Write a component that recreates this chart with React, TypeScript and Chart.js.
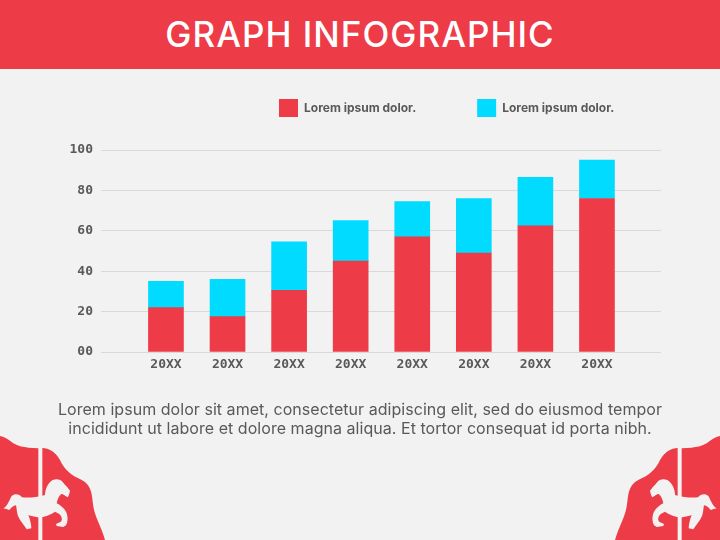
import React, { useEffect, useRef } from "react";
import { Chart, registerables } from "chart.js";

Chart.register(...registerables);

const categories = ["20XX", "20XX", "20XX", "20XX", "20XX", "20XX", "20XX", "20XX"];
const redValues = [22, 17.5, 30.5, 45, 57, 49, 62.5, 76];
const blueValues = [13, 18.5, 24, 20, 17.5, 27, 24, 19];
const seriesNames = ["Lorem ipsum dolor.", "Lorem ipsum dolor."];
const yTicks = [0, 20, 40, 60, 80, 100];
const RED = "#EE3B48";
const BLUE = "#00DBFF";
const TEXT = "#595959";
const BG = "#F2F2F2";
const TICK_FONT = "'DejaVu Sans Mono', monospace";

const blobPath =
  "M0 48 C12 50 22 56 32 64 C50 78 70 84 115 85 C140 80 165 92 180 120 C190 142 205 160 235 175 C265 188 275 205 278 245 C282 290 305 320 315 360 L0 360 Z";
const horsePath =
  "M10 265 C22 260 28 240 35 228 C45 220 58 222 66 232 C85 234 110 232 135 225 C136 210 140 192 158 180 C170 176 182 178 188 186 C196 196 205 204 210 212 C208 222 206 228 203 232 C196 228 190 222 184 222 C176 228 172 240 170 250 C182 256 196 268 200 280 C204 292 204 305 198 316 L190 321 L170 318 L168 312 L183 305 C188 298 186 290 178 282 L165 275 C150 285 135 292 112 292 L85 286 C90 298 94 312 94 325 L80 328 C72 315 60 302 54 288 C50 276 50 264 48 256 C40 256 34 264 28 270 C22 268 16 266 10 265 Z";

function Corner({ mirrored }: { mirrored: boolean }) {
  return (
    <svg
      width={120}
      height={120}
      viewBox="0 0 360 360"
      style={{
        position: "absolute",
        top: 420,
        left: mirrored ? 600 : 0,
        transform: mirrored ? "scaleX(-1)" : undefined,
      }}
    >
      <path d={blobPath} fill={RED} />
      <rect x={115} y={80} width={12} height={280} fill={BG} />
      <path d={horsePath} fill={BG} />
    </svg>
  );
}

export default function App() {
  const ref = useRef<HTMLCanvasElement>(null);

  useEffect(() => {
    if (!ref.current) return;
    const place = {
      id: "placeLegend",
      afterLayout(chart: any) {
        chart.legend.left = 218;
        chart.legend.right = 720;
        chart.legend.top = 38;
      },
    };
    const chart = new Chart(ref.current, {
      type: "bar",
      plugins: [place],
      data: {
        labels: categories,
        datasets: [
          {
            label: seriesNames[0],
            data: redValues.map((y, x) => ({ x, y })),
            backgroundColor: RED,
            barThickness: 35,
          },
          {
            label: seriesNames[1],
            data: blueValues.map((y, x) => ({ x, y })),
            backgroundColor: BLUE,
            barThickness: 35,
          },
        ],
      },
      options: {
        responsive: false,
        animation: false,
        layout: { padding: { top: 61, right: 59, left: 0, bottom: 0 } },
        plugins: {
          tooltip: { enabled: false },
          legend: {
            position: "top",
            align: "start",
            labels: {
              boxWidth: 19,
              boxHeight: 18,
              padding: 61,
              color: TEXT,
              font: { family: "Inter", size: 12, weight: "700" },
            },
          },
        },
        scales: {
          x: {
            type: "linear",
            stacked: true,
            offset: false,
            min: -1.055,
            max: 8.04,
            afterBuildTicks: (s: any) => {
              s.ticks = categories.map((_, i) => ({ value: i }));
            },
            afterFit: (s: any) => {
              s.height = 188;
            },
            grid: { display: false, drawTicks: false },
            border: { display: false },
            ticks: {
              autoSkip: false,
              maxRotation: 0,
              padding: 5,
              color: TEXT,
              font: { family: TICK_FONT, size: 13, weight: "700" },
              callback: (v: any) => categories[v] ?? "",
            },
          },
          y: {
            stacked: true,
            min: 0,
            max: 100,
            afterBuildTicks: (s: any) => {
              s.ticks = yTicks.map((value) => ({ value }));
            },
            afterFit: (s: any) => {
              s.width = 101;
            },
            grid: { color: "#D9D9D9", lineWidth: 1, drawTicks: false },
            border: { display: false },
            ticks: {
              padding: 8,
              color: TEXT,
              font: { family: TICK_FONT, size: 13, weight: "700" },
              callback: (v: any) => String(v).padStart(2, "0"),
            },
          },
        },
      },
    } as any);
    return () => chart.destroy();
  }, []);

  return (
    <div
      style={{
        position: "fixed",
        left: 0,
        top: 0,
        width: 720,
        height: 540,
        background: BG,
        overflow: "hidden",
      }}
    >
      <div
        style={{
          position: "absolute",
          left: 0,
          top: 0,
          width: 720,
          height: 69,
          background: RED,
          color: "#FFFFFF",
          textAlign: "center",
          fontFamily: "Inter, sans-serif",
          fontWeight: 500,
          fontSize: 35,
          letterSpacing: 1,
          lineHeight: "69px",
        }}
      >
        GRAPH INFOGRAPHIC
      </div>
      <canvas
        ref={ref}
        width={720}
        height={540}
        style={{ position: "absolute", left: 0, top: 0, width: 720, height: 540 }}
      />
      <div
        style={{
          position: "absolute",
          left: 30,
          top: 400,
          width: 660,
          textAlign: "center",
          fontFamily: "Inter, sans-serif",
          fontSize: 16,
          letterSpacing: 0.04,
          lineHeight: "19px",
          color: TEXT,
        }}
      >
        Lorem ipsum dolor sit amet, consectetur adipiscing elit, sed do eiusmod tempor
        <br />
        incididunt ut labore et dolore magna aliqua. Et tortor consequat id porta nibh.
      </div>
      <Corner mirrored={false} />
      <Corner mirrored={true} />
    </div>
  );
}
